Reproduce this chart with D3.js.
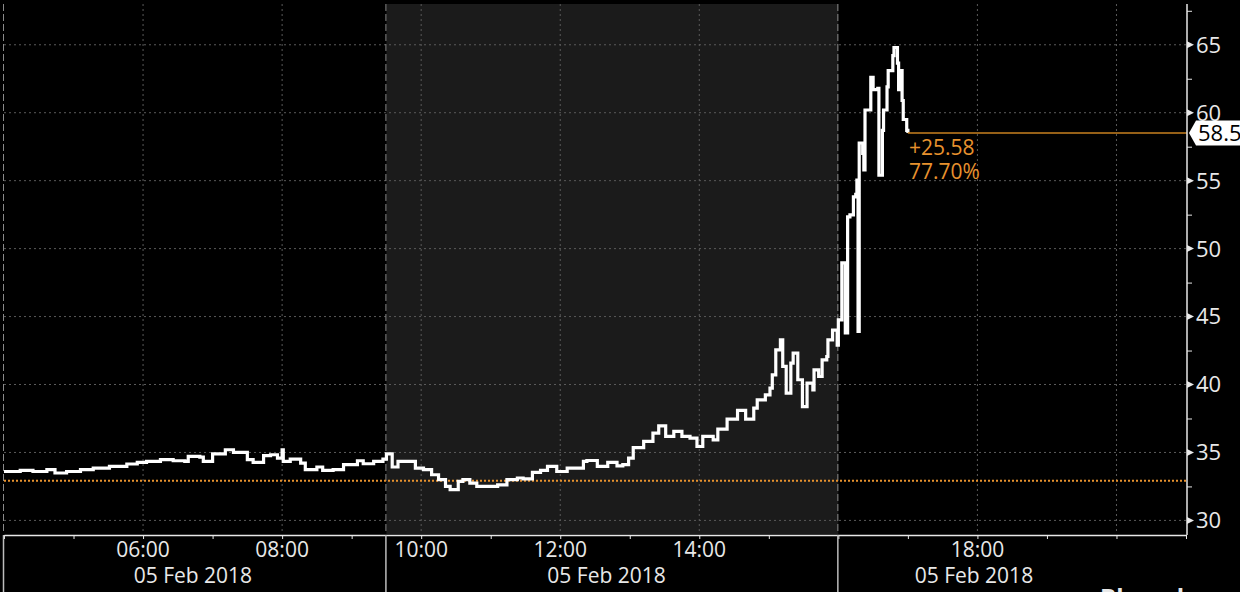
<!DOCTYPE html>
<html>
<head>
<meta charset="utf-8">
<script src="https://cdn.jsdelivr.net/npm/d3@7/dist/d3.min.js"></script>
<style>
  body { margin: 0; background: #000; }
  svg { display: block; font-family: "Open Sans", sans-serif; }
</style>
</head>
<body>
<svg id="chart" width="1240" height="592"></svg>
<script>
// intraday prints, 05 Feb 2018
var times = ["04:00","04:14","04:25","04:37","04:44","04:54","05:06","05:17","05:31","05:46",
  "05:55","06:03","06:15","06:26","06:36","06:39","06:49","06:52","07:00","07:11",
  "07:18","07:30","07:35","07:44","07:50","07:56","08:00","08:01","08:07","08:16",
  "08:20","08:30","08:35","08:44","08:53","09:05","09:10","09:19","09:27","09:30",
  "09:35","09:40","09:50","09:55","10:02","10:09","10:15","10:21","10:25","10:32",
  "10:36","10:42","10:48","10:57","11:06","11:14","11:23","11:28","11:36","11:43",
  "11:49","11:57","12:06","12:11","12:20","12:23","12:32","12:41","12:49","12:54",
  "12:59","13:03","13:12","13:20","13:25","13:31","13:38","13:45","13:52","13:58",
  "14:03","14:12","14:16","14:24","14:33","14:40","14:47","14:50","14:57","15:01",
  "15:03","15:06","15:10","15:12","15:15","15:19","15:21","15:25","15:29","15:33",
  "15:38","15:39","15:43","15:46","15:50","15:51","15:55","15:59","16:00","16:03",
  "16:06","16:08","16:10","16:13","16:15","16:16","16:17","16:18","16:21","16:22",
  "16:23","16:28","16:30","16:34","16:35","16:38","16:39","16:42","16:43","16:47",
  "16:48","16:51","16:52","16:53","16:55","16:56","16:59","17:00"];
var prices = [33.60,33.68,33.60,33.73,33.49,33.60,33.73,33.85,33.97,34.15,
  34.27,34.34,34.47,34.39,34.34,34.71,34.66,34.34,34.90,35.20,
  35.00,34.47,34.27,34.76,34.83,34.59,35.20,34.34,34.51,34.22,
  33.73,33.93,33.68,33.73,34.10,34.39,34.17,34.34,34.51,34.90,
  33.93,34.34,34.34,33.85,33.73,33.36,33.00,32.50,32.26,32.87,
  33.00,32.75,32.50,32.50,32.62,33.00,33.12,33.05,33.53,33.68,
  33.97,33.60,33.85,33.85,34.34,34.41,33.97,34.27,34.02,34.10,
  34.59,35.35,35.81,36.43,36.96,36.18,36.55,36.18,36.06,35.44,
  36.18,35.93,36.72,37.46,38.09,37.46,38.26,38.87,39.24,39.73,
  40.71,42.55,43.29,41.33,39.37,41.57,42.31,40.35,38.38,40.10,
  39.60,41.08,40.59,41.82,42.06,43.29,44.00,42.90,44.76,48.95,
  43.80,52.33,52.48,53.80,54.00,55.05,43.90,57.77,57.00,55.80,
  60.20,62.60,61.70,61.80,55.40,58.70,60.20,61.90,63.10,64.20,
  64.80,63.65,61.70,63.10,60.90,59.50,58.70,58.50];

var prevClose = 32.92;
var lastPrice = 58.50;
var sessionTimes = ["09:30", "16:00"];
var yTicks = [30, 35, 40, 45, 50, 55, 60, 65];
var yMinorTicks = [32.5, 37.5, 42.5, 47.5, 52.5, 57.5, 62.5, 67.5];
var xLabelTimes = ["06:00", "08:00", "10:00", "12:00", "14:00", "18:00"];
var xGridTimes = ["06:00", "08:00", "10:00", "12:00", "14:00", "18:00", "20:00"];
var dateLabelTimes = ["06:43", "12:40", "17:57"];
var dateLabel = "05 Feb 2018";

var parse = d3.timeParse("%Y-%m-%d %H:%M");
function t(s) { return parse("2018-02-05 " + s); }

var data = times.map(function (s, i) { return { date: t(s), price: prices[i] }; });

var svg = d3.select("#chart"),
    plotLeft = 4, plotRight = 1187, plotTop = 4, plotBottom = 534;

var x = d3.scaleTime().domain([t("04:00"), t("21:00")]).range([plotLeft, 1186]);
var y = d3.scaleLinear().domain([29, 68]).range([plotBottom, plotTop]);

var white = "#e8e8e8", orange = "#e8922e", grid = "#5a5a5a";

// regular session shading
svg.append("rect")
    .attr("x", x(t(sessionTimes[0])))
    .attr("y", plotTop)
    .attr("width", x(t(sessionTimes[1])) - x(t(sessionTimes[0])))
    .attr("height", plotBottom - plotTop)
    .attr("fill", "#1b1b1b");

// grid
svg.append("g").selectAll("line")
    .data(yTicks)
    .enter().append("line")
    .attr("x1", plotLeft).attr("x2", plotRight)
    .attr("y1", function (d) { return y(d); })
    .attr("y2", function (d) { return y(d); })
    .attr("stroke", grid).attr("stroke-dasharray", "2,3");

svg.append("g").selectAll("line")
    .data(xGridTimes)
    .enter().append("line")
    .attr("x1", function (d) { return x(t(d)); })
    .attr("x2", function (d) { return x(t(d)); })
    .attr("y1", plotTop).attr("y2", plotBottom)
    .attr("stroke", grid).attr("stroke-dasharray", "2,3");

// session borders
svg.append("g").selectAll("line")
    .data(["04:00"].concat(sessionTimes))
    .enter().append("line")
    .attr("x1", function (d) { return x(t(d)) - 0.5; })
    .attr("x2", function (d) { return x(t(d)) - 0.5; })
    .attr("y1", plotTop).attr("y2", plotBottom)
    .attr("stroke", "#8a8a8a").attr("stroke-dasharray", "7,3");

// previous close
svg.append("line")
    .attr("x1", plotLeft).attr("x2", plotRight)
    .attr("y1", y(prevClose)).attr("y2", y(prevClose))
    .attr("stroke", orange).attr("stroke-width", 2)
    .attr("stroke-dasharray", "2,2");

// price line, stepped like the terminal draws it
var line = d3.line()
    .curve(d3.curveStepAfter)
    .x(function (d) { return x(d.date); })
    .y(function (d) { return y(d.price); });

svg.append("path")
    .datum(data)
    .attr("d", line)
    .attr("fill", "none")
    .attr("stroke", "#fff")
    .attr("stroke-width", 3.2)
    .attr("stroke-linejoin", "miter");

// last price line + change text
var last = data[data.length - 1];
svg.append("line")
    .attr("x1", x(last.date)).attr("x2", plotRight)
    .attr("y1", y(lastPrice)).attr("y2", y(lastPrice))
    .attr("stroke", "#c9801f").attr("stroke-width", 1.5);

var change = lastPrice - prevClose;
svg.append("text")
    .attr("x", x(last.date) + 1).attr("y", y(lastPrice) + 22)
    .attr("fill", orange).attr("font-size", 21)
    .text("+" + change.toFixed(2));
svg.append("text")
    .attr("x", x(last.date) + 1).attr("y", y(lastPrice) + 46)
    .attr("fill", orange).attr("font-size", 21)
    .text((change / prevClose * 100).toFixed(2) + "%");

// x axis
var xAxis = svg.append("g")
    .attr("transform", "translate(0," + (plotBottom + 1) + ")")
    .call(d3.axisBottom(x).ticks(d3.timeHour.every(1)).tickSize(4).tickSizeOuter(0).tickFormat(""));
xAxis.select(".domain").attr("stroke", white).attr("stroke-width", 1.5);
xAxis.selectAll(".tick line").attr("stroke", white);

svg.append("g").selectAll("text")
    .data(xLabelTimes)
    .enter().append("text")
    .attr("x", function (d) { return x(t(d)); })
    .attr("y", 557)
    .attr("text-anchor", "middle")
    .attr("fill", white).attr("font-size", 21)
    .text(function (d) { return d; });

svg.append("g").selectAll("text")
    .data(dateLabelTimes)
    .enter().append("text")
    .attr("x", function (d) { return x(t(d)); })
    .attr("y", 583)
    .attr("text-anchor", "middle")
    .attr("fill", white).attr("font-size", 21)
    .text(dateLabel);

svg.append("g").selectAll("line")
    .data(["04:00"].concat(sessionTimes))
    .enter().append("line")
    .attr("x1", function (d) { return x(t(d)) - 0.5; })
    .attr("x2", function (d) { return x(t(d)) - 0.5; })
    .attr("y1", plotBottom + 1).attr("y2", 592)
    .attr("stroke", "#bdbdbd").attr("stroke-width", 1.5);

// y axis
svg.append("line")
    .attr("x1", plotRight).attr("x2", plotRight)
    .attr("y1", plotTop).attr("y2", plotBottom + 1)
    .attr("stroke", white).attr("stroke-width", 1.5);

var yAxis = svg.append("g")
    .attr("transform", "translate(" + plotRight + ",0)")
    .call(d3.axisRight(y).tickValues(yMinorTicks).tickSize(5).tickFormat(""));
yAxis.select(".domain").remove();
yAxis.selectAll(".tick line").attr("stroke", white);

var yMajor = svg.append("g").selectAll("g")
    .data(yTicks)
    .enter().append("g")
    .attr("transform", function (d) { return "translate(" + plotRight + "," + y(d) + ")"; });
yMajor.append("path")
    .attr("d", "M0,-3.5L7,0L0,3.5Z")
    .attr("fill", white);
yMajor.append("text")
    .attr("x", 9).attr("dy", "0.36em")
    .attr("fill", white).attr("font-size", 22)
    .text(function (d) { return d; });

// last price tag
var ly = y(lastPrice);
svg.append("path")
    .attr("d", "M" + (plotRight + 2) + "," + ly + "L" + (plotRight + 9) + "," + (ly - 12.5) +
        "L1245," + (ly - 12.5) + "L1245," + (ly + 12.5) + "L" + (plotRight + 9) + "," + (ly + 12.5) + "Z")
    .attr("fill", "#fff");
svg.append("text")
    .attr("x", plotRight + 11).attr("y", ly).attr("dy", "0.36em")
    .attr("fill", "#000").attr("font-size", 22)
    .text(lastPrice.toFixed(2));

// logo, cut by the frame
svg.append("text")
    .attr("x", 1100).attr("y", 606)
    .attr("fill", white).attr("font-size", 24).attr("font-weight", "bold")
    .text("Bloomberg");
</script>
</body>
</html>
